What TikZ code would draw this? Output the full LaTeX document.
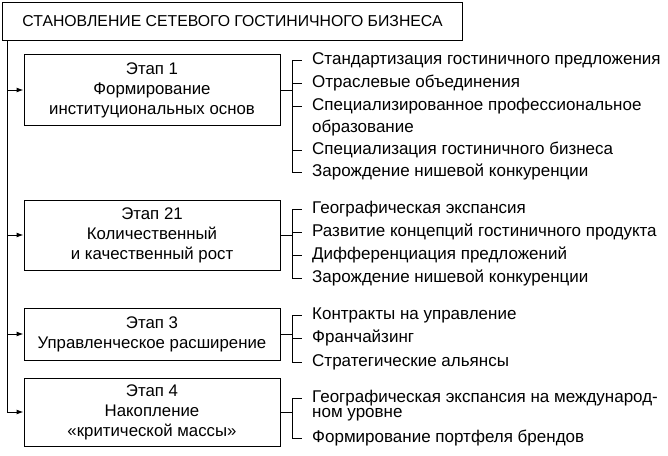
\documentclass[tikz,border=0pt]{standalone}
\usepackage{fontspec}
\setmainfont{Liberation Sans}
\usetikzlibrary{arrows.meta}
\begin{document}
\begin{tikzpicture}[x=1pt,y=-1pt,
	  stagebox/.style={draw, line width=1pt, minimum width=256pt, align=center, inner sep=2pt, font=\fontsize{16.8}{20}\selectfont},
	  item/.style={anchor=west, align=left, font=\fontsize{17}{20}\selectfont, inner sep=0pt},
	  link/.style={line width=1pt}]
	  \useasboundingbox (0,0) rectangle (668,455);

	  \node [draw, line width=1pt, minimum width=460pt, minimum height=38pt, anchor=north west, font=\fontsize{15.8}{18}\selectfont] (title) at (2,2) {СТАНОВЛЕНИЕ СЕТЕВОГО ГОСТИНИЧНОГО БИЗНЕСА};

	  \node [stagebox, minimum height=71pt] (s1) at (152,90) {Этап 1\\Формирование\\институциональных основ};
	  \node [stagebox, minimum height=70pt] (s2) at (152,235) {Этап 21\\Количественный\\и качественный рост};
	  \node [stagebox, minimum height=52pt] (s3) at (152,334) {Этап 3\\Управленческое расширение};
	  \node [stagebox, minimum height=68pt] (s4) at (152,412) {Этап 4\\Накопление\\«критической массы»};

	  % left spine
	  \coordinate (top) at (7,40);
	  \coordinate (bot) at (7,412);
	  \draw [link] (top) -- (bot);
	  \foreach \s in {s1,s2,s3,s4}
	    \draw [link, -{Latex[length=7pt,width=5pt]}] (\s.west -| top) -- (\s.west);

	  % right items
	  \foreach \y/\t in {60/Стандартизация гостиничного предложения,
	                     83/Отраслевые объединения,
	                     106/Специализированное профессиональное,
	                     150/Специализация гостиничного бизнеса,
	                     172/Зарождение нишевой конкуренции,
	                     209/Географическая экспансия,
	                     232/Развитие концепций гостиничного продукта,
	                     255/Дифференциация предложений,
	                     278/Зарождение нишевой конкуренции,
	                     315/Контракты на управление,
	                     338/Франчайзинг,
	                     362/Стратегические альянсы,
	                     398/Географическая экспансия на международ-,
	                     438/Формирование портфеля брендов}
	    {
	      \node [item] (i\y) at (312,\y) {\t};
	      \draw [link] (292,\y) -- (302,\y);
	    }
	  \node [item] (i128) at (312,128) {образование};
	  \node [item] (i415) at (312,415) {ном уровне};

	  \draw [link] (292,60) -- (292,172);
	  \draw [link] (292,209) -- (292,278);
	  \draw [link] (292,315) -- (292,362);
	  \draw [link] (292,398) -- (292,438);
	  \draw [link] (s1.east) -- (292,90);
	  \draw [link] (s2.east) -- (292,235);
	  \draw [link] (s3.east) -- (292,334);
	  \draw [link] (s4.east) -- (292,412);
	\end{tikzpicture}
\end{document}
